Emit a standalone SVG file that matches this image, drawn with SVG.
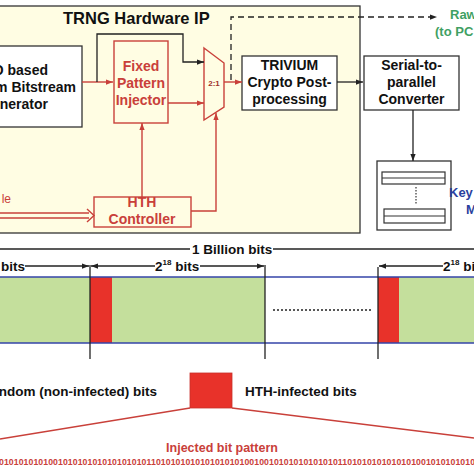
<svg xmlns="http://www.w3.org/2000/svg" width="474" height="474" viewBox="0 0 474 474">
<defs>
<style>
text{font-family:"Liberation Sans",Arial,sans-serif;font-weight:bold}
.blk{fill:#111}
.red{fill:#C9403A}
.box{fill:#fff;stroke:#333;stroke-width:1.3}
.rbox{fill:none;stroke:#C9403A;stroke-width:1.4}
.rl{fill:none;stroke:#C9403A;stroke-width:1.4}
.bl{fill:none;stroke:#222;stroke-width:1.3}
</style>
<marker id="ab" viewBox="0 0 8 6" refX="8" refY="3" markerWidth="7" markerHeight="5.5" markerUnits="userSpaceOnUse" orient="auto"><path d="M0,0 L8,3 L0,6 z" fill="#222"/></marker>
<marker id="ar" viewBox="0 0 8 6" refX="8" refY="3" markerWidth="7" markerHeight="5.5" markerUnits="userSpaceOnUse" orient="auto"><path d="M0,0 L8,3 L0,6 z" fill="#C9403A"/></marker>
</defs>
<rect width="474" height="474" fill="#fff"/>

<!-- Hardware IP panel -->
<g id="trng-panel">
<rect x="-5" y="6" width="365" height="227" fill="#FFFDE3" stroke="#333" stroke-width="1.3"/>
<text x="63" y="24" font-size="16.5" class="blk">TRNG Hardware IP</text>
</g>

<g id="ro-generator">
<rect class="box" x="-60" y="46" width="142" height="81"/>
<text class="blk" font-size="14" text-anchor="end" x="48" y="75">O based</text>
<text class="blk" font-size="14" text-anchor="end" x="76" y="92">m Bitstream</text>
<text class="blk" font-size="14" text-anchor="end" x="48" y="109">nerator</text>
</g>

<g id="fixed-pattern-injector">
<rect class="rbox" x="114" y="41" width="54" height="82"/>
<text class="red" font-size="14" text-anchor="middle" x="141" y="71">Fixed</text>
<text class="red" font-size="14" text-anchor="middle" x="141" y="88">Pattern</text>
<text class="red" font-size="14" text-anchor="middle" x="141" y="105">Injector</text>
</g>

<g id="mux">
<polygon points="204,48 224,63 224,107 204,120" fill="#FFFDE3" stroke="#C9403A" stroke-width="1.4"/>
<text x="214" y="86" font-size="8" text-anchor="middle" fill="#A0302A">2:1</text>
</g>

<g id="hth-controller">
<rect class="rbox" x="94" y="197" width="97" height="30"/>
<text class="red" font-size="14" text-anchor="middle" x="142" y="207">HTH</text>
<text class="red" font-size="14" text-anchor="middle" x="142" y="224">Controller</text>
</g>

<g id="trivium">
<rect class="box" x="242" y="56" width="95" height="54"/>
<text class="blk" font-size="14" text-anchor="middle" x="289.5" y="70">TRIVIUM</text>
<text class="blk" font-size="14" text-anchor="middle" x="289.5" y="87">Crypto Post-</text>
<text class="blk" font-size="14" text-anchor="middle" x="289.5" y="104">processing</text>
</g>

<g id="serial-to-parallel">
<rect class="box" x="364" y="56" width="95" height="54"/>
<text class="blk" font-size="14" text-anchor="middle" x="411.5" y="70">Serial-to-</text>
<text class="blk" font-size="14" text-anchor="middle" x="411.5" y="87">parallel</text>
<text class="blk" font-size="14" text-anchor="middle" x="411.5" y="104">Converter</text>
</g>

<g id="key-memory">
<rect class="box" x="377" y="161" width="74" height="69"/>
<rect x="382" y="172" width="63" height="12" fill="#fff" stroke="#333" stroke-width="1.2"/>
<line x1="382" y1="178" x2="445" y2="178" stroke="#333" stroke-width="1.1"/>
<rect x="384" y="209" width="61" height="14" fill="#fff" stroke="#333" stroke-width="1.2"/>
<line x1="384" y1="216" x2="445" y2="216" stroke="#333" stroke-width="1.1"/>
<line x1="416" y1="187" x2="416" y2="205" stroke="#333" stroke-width="1.2" stroke-dasharray="1.5 1.5"/>
<text x="449" y="197" font-size="13" fill="#2A3F9E">Key</text>
<text x="466" y="214" font-size="13" fill="#2A3F9E">M</text>
</g>

<g id="raw-output">
<text x="450" y="19" font-size="13" fill="#3FA063">Raw</text>
<text x="435" y="36" font-size="13" fill="#3FA063">(to PC</text>
</g>

<g id="enable-input">
<text x="11" y="203" font-size="12" font-weight="normal" text-anchor="end" class="red" style="font-weight:normal">le</text>
</g>

<g id="connectors">
<line class="rl" x1="82" y1="82" x2="113" y2="82" marker-end="url(#ar)"/>
<polyline class="bl" points="97,82 97,34 183,34 183,62 204,62" marker-end="url(#ab)"/>
<line class="rl" x1="168" y1="103" x2="204" y2="103" marker-end="url(#ar)"/>
<polyline class="rl" points="191,211 216,211 216,113" marker-end="url(#ar)"/>
<line class="rl" x1="142" y1="197" x2="142" y2="123" marker-end="url(#ar)"/>
<line class="rl" x1="224" y1="82" x2="242" y2="82" marker-end="url(#ar)"/>
<polyline class="bl" points="231,80 231,17 437,17" stroke-dasharray="6 4" marker-end="url(#ab)"/>
<line class="bl" x1="337" y1="82" x2="363" y2="82" marker-end="url(#ab)"/>
<line class="bl" x1="413" y1="110" x2="413" y2="161" marker-end="url(#ab)"/>
<line class="rl" x1="0" y1="213" x2="89" y2="213"/>
<line class="rl" x1="0" y1="218" x2="89" y2="218"/>
<polyline class="rl" points="87,209 94,215.5 87,222"/>
</g>

<!-- Bitstream bar -->
<g id="bitstream">
<rect x="0" y="277" width="265" height="66" fill="#C4DF9C"/>
<rect x="90" y="277" width="22" height="66" fill="#E8322A"/>
<rect x="399" y="277" width="75" height="66" fill="#C4DF9C"/>
<rect x="378" y="277" width="21" height="66" fill="#E8322A"/>
<line x1="0" y1="277" x2="474" y2="277" stroke="#3444A8" stroke-width="1.4"/>
<line x1="0" y1="343" x2="474" y2="343" stroke="#3444A8" stroke-width="1.4"/>
<line x1="273" y1="310" x2="373" y2="310" stroke="#222" stroke-width="1.3" stroke-dasharray="2 2"/>
<line x1="90" y1="265" x2="90" y2="359" class="bl"/>
<line x1="265" y1="265" x2="265" y2="359" class="bl"/>
<line x1="378" y1="267" x2="378" y2="359" class="bl"/>
</g>

<g id="dimensions">
<line class="bl" x1="0" y1="249" x2="190" y2="249"/>
<text class="blk" font-size="13.5" x="192" y="254">1 Billion bits</text>
<line class="bl" x1="273" y1="249" x2="474" y2="249"/>
<text class="blk" font-size="13.5" text-anchor="end" x="25" y="271">bits</text>
<line class="bl" x1="25" y1="266" x2="89" y2="266" marker-end="url(#ab)"/>
<line class="bl" x1="155" y1="266" x2="91" y2="266" marker-end="url(#ab)"/>
<text class="blk" font-size="13.5" x="155" y="271">2<tspan font-size="8" dy="-6">18</tspan><tspan dy="6"> bits</tspan></text>
<line class="bl" x1="200" y1="266" x2="264" y2="266" marker-end="url(#ab)"/>
<line class="bl" x1="443" y1="266" x2="379" y2="266" marker-end="url(#ab)"/>
<text class="blk" font-size="13.5" x="443" y="271">2<tspan font-size="8" dy="-6">18</tspan><tspan dy="6"> bi</tspan></text>
</g>

<g id="legend">
<text class="blk" font-size="13.5" text-anchor="end" x="157" y="396">ndom (non-infected) bits</text>
<rect x="190" y="373" width="42" height="35" fill="#E8322A" stroke="#C9302A" stroke-width="0.8"/>
<text class="blk" font-size="13.5" x="245" y="396">HTH-infected bits</text>
<line class="rl" x1="190" y1="408" x2="0" y2="439"/>
<line class="rl" x1="232" y1="408" x2="474" y2="438"/>
<text class="red" font-size="12.5" text-anchor="middle" x="222" y="452">Injected bit pattern</text>
<text class="red" font-size="8.7" x="-1" y="465" textLength="476" lengthAdjust="spacing">0101010101001010101010101010101101010101010101010100100101010101010101101010101010101001010101010</text>
</g>
</svg>
